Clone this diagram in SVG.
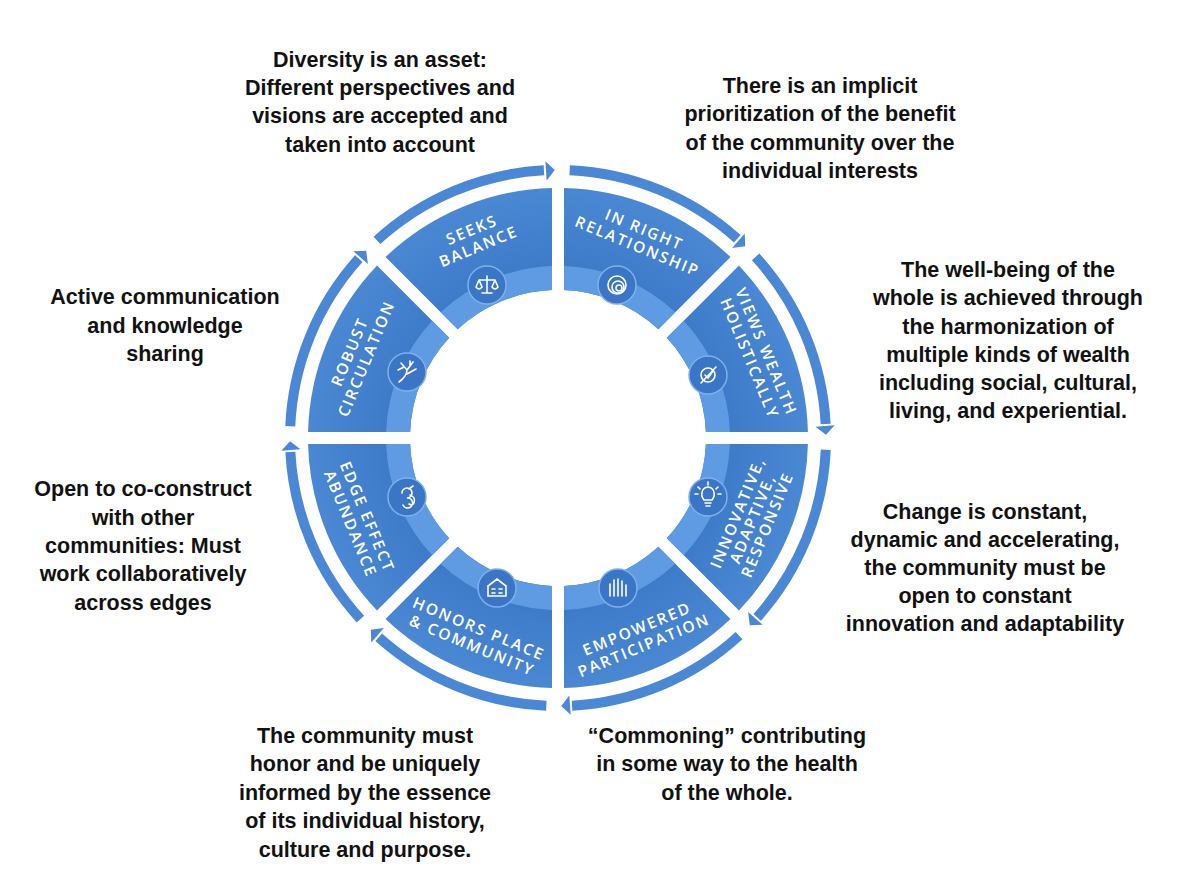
<svg xmlns="http://www.w3.org/2000/svg" xmlns:xlink="http://www.w3.org/1999/xlink" width="1200" height="893" viewBox="0 0 1200 893">
<style>
.t{font-family:"Liberation Sans",Arial,sans-serif;font-weight:bold;font-size:21.5px;fill:#111;text-anchor:middle}
.w{font-family:"Open Sans","Liberation Sans",sans-serif;font-weight:600;font-size:15.5px;fill:#fff;text-anchor:middle;letter-spacing:2px}
.ic{fill:#3b76c6;stroke:#7fb0ea;stroke-width:1.5}
.g{fill:none;stroke:#fff;stroke-width:1.6;stroke-linecap:round}
</style>
<defs>
<radialGradient id="wg" cx="0" cy="0" r="250" gradientUnits="userSpaceOnUse">
<stop offset="0.6" stop-color="#3a78c6"/><stop offset="1" stop-color="#4a88d4"/>
</radialGradient>
<path id="wedge" d="M6,-249.93 A250,250 0 0 1 172.5,-180.95 L100.33,-108.81 A148,148 0 0 0 6,-147.88 Z" fill="url(#wg)"/>
<path id="band" d="M6,-171.9 A172,172 0 0 1 117.3,-125.8 L100.33,-108.81 A148,148 0 0 0 6,-147.88 Z" fill="#5e9be2"/>
<g id="arc">
<path d="M11.69,-267.74 A268,268 0 0 1 179.3,-199.2" fill="none" stroke="#4a88d6" stroke-width="10"/>
<polygon points="174.1,-190.1 186.7,-204.6 187.2,-191.8" fill="#4a88d6"/>
</g>
</defs>
<g id="connectors" transform="translate(558,438)">
<use xlink:href="#arc"/>
<use xlink:href="#arc" transform="rotate(45)"/>
<use xlink:href="#arc" transform="rotate(90)"/>
<use xlink:href="#arc" transform="rotate(135)"/>
<use xlink:href="#arc" transform="rotate(180)"/>
<use xlink:href="#arc" transform="rotate(225)"/>
<use xlink:href="#arc" transform="rotate(270)"/>
<use xlink:href="#arc" transform="rotate(315)"/>
</g>
<g transform="translate(558,438)">
<g id="n-seeks-balance" transform="rotate(315)"><use xlink:href="#wedge"/><use xlink:href="#band"/></g>
<g id="n-right-relationship"><use xlink:href="#wedge"/><use xlink:href="#band"/></g>
<g id="n-views-wealth" transform="rotate(45)"><use xlink:href="#wedge"/><use xlink:href="#band"/></g>
<g id="n-innovative" transform="rotate(90)"><use xlink:href="#wedge"/><use xlink:href="#band"/></g>
<g id="n-empowered" transform="rotate(135)"><use xlink:href="#wedge"/><use xlink:href="#band"/></g>
<g id="n-honors" transform="rotate(180)"><use xlink:href="#wedge"/><use xlink:href="#band"/></g>
<g id="n-edge" transform="rotate(225)"><use xlink:href="#wedge"/><use xlink:href="#band"/></g>
<g id="n-robust" transform="rotate(270)"><use xlink:href="#wedge"/><use xlink:href="#band"/></g>
</g>
<g id="labels" transform="translate(558,438)">
<g transform="rotate(-22.5) translate(0,-216)"><text class="w" y="-4">SEEKS</text><text class="w" y="14">BALANCE</text></g>
<g transform="rotate(22.5) translate(0,-216)"><text class="w" y="-4">IN RIGHT</text><text class="w" y="14">RELATIONSHIP</text></g>
<g transform="rotate(67.5) translate(0,-216)"><text class="w" y="-4">VIEWS WEALTH</text><text class="w" y="14">HOLISTICALLY</text></g>
<g transform="rotate(-67.5) translate(0,-216)"><text class="w" y="-4">ROBUST</text><text class="w" y="14">CIRCULATION</text></g>
<g transform="rotate(112.5) translate(0,-214) rotate(180)"><text class="w" y="-14">INNOVATIVE,</text><text class="w" y="2">ADAPTIVE,</text><text class="w" y="18">RESPONSIVE</text></g>
<g transform="rotate(157.5) translate(0,-216) rotate(180)"><text class="w" y="-4">EMPOWERED</text><text class="w" y="14">PARTICIPATION</text></g>
<g transform="rotate(202.5) translate(0,-216) rotate(180)"><text class="w" y="-4">HONORS PLACE</text><text class="w" y="14">&amp; COMMUNITY</text></g>
<g transform="rotate(247.5) translate(0,-216) rotate(180)"><text class="w" y="-4">EDGE EFFECT</text><text class="w" y="14">ABUNDANCE</text></g>
</g>
<g id="icons">
<g transform="translate(487,285)"><circle class="ic" r="19"/><path class="g" d="M0,-9 V7 M-8,-5 H8 M-8,-5 L-11,2 M-8,-5 L-5,2 M8,-5 L5,2 M8,-5 L11,2 M-11,2 Q-8,6 -5,2 M5,2 Q8,6 11,2 M-5,8 H5"/></g>
<g transform="translate(617,285)"><circle class="ic" r="19"/><circle class="g" cx="0" cy="0" r="9"/><circle class="g" cx="1" cy="2" r="6"/><circle class="g" cx="2" cy="3" r="3"/></g>
<g transform="translate(708,375)"><circle class="ic" r="19"/><circle class="g" r="7"/><path class="g" d="M-7,8 L8,-8 M-3,0 L0,3 L5,-4"/></g>
<g transform="translate(708,497)"><circle class="ic" r="19"/><path class="g" d="M-4,3 Q-7,-1 -6,-4 A6,6 0 1 1 6,-4 Q7,-1 4,3 Z M-3,6 H3 M-2,9 H2 M0,-15 V-12 M-10,-10 L-8,-8 M10,-10 L8,-8 M-13,-3 H-10 M13,-3 H10"/></g>
<g transform="translate(618,588)"><circle class="ic" r="19"/><path class="g" d="M-8,8 V-4 M-4,8 V-8 M0,8 V-9 M4,8 V-7 M8,8 V-3"/></g>
<g transform="translate(497,588)"><circle class="ic" r="19"/><path class="g" d="M-9,8 V-2 L0,-9 L9,-2 V8 Z M-5,1 H-2 M2,1 H5 M-5,5 H-2 M2,5 H5"/></g>
<g transform="translate(407,497)"><circle class="ic" r="19"/><path class="g" d="M-5,-4 A5,5 0 1 1 0,1 A5,5 0 1 1 -4,8 M3,-2 Q9,0 7,6 Q5,9 2,7 M2,-8 L6,-11"/></g>
<g transform="translate(407,372)"><circle class="ic" r="19"/><path class="g" d="M-8,10 Q0,4 0,-2 L-6,-9 M0,-2 L6,-10 M0,2 L9,-3 M-3,-5 L-9,-2 M3,-6 L3,-11"/></g>
</g>
<g id="texts">
<text class="t" x="380" y="67">Diversity is an asset:</text>
<text class="t" x="380" y="95">Different perspectives and</text>
<text class="t" x="380" y="123">visions are accepted and</text>
<text class="t" x="380" y="152">taken into account</text>
<text class="t" x="820" y="93">There is an implicit</text>
<text class="t" x="820" y="121">prioritization of the benefit</text>
<text class="t" x="820" y="150">of the community over the</text>
<text class="t" x="820" y="178">individual interests</text>
<text class="t" x="165" y="304">Active communication</text>
<text class="t" x="165" y="333">and knowledge</text>
<text class="t" x="165" y="361">sharing</text>
<text class="t" x="1008" y="277">The well-being of the</text>
<text class="t" x="1008" y="305">whole is achieved through</text>
<text class="t" x="1008" y="334">the harmonization of</text>
<text class="t" x="1008" y="362">multiple kinds of wealth</text>
<text class="t" x="1008" y="390">including social, cultural,</text>
<text class="t" x="1008" y="418">living, and experiential.</text>
<text class="t" x="143" y="496">Open to co-construct</text>
<text class="t" x="143" y="525">with other</text>
<text class="t" x="143" y="553">communities: Must</text>
<text class="t" x="143" y="581">work collaboratively</text>
<text class="t" x="143" y="610">across edges</text>
<text class="t" x="985" y="519">Change is constant,</text>
<text class="t" x="985" y="547">dynamic and accelerating,</text>
<text class="t" x="985" y="575">the community must be</text>
<text class="t" x="985" y="603">open to constant</text>
<text class="t" x="985" y="631">innovation and adaptability</text>
<text class="t" x="365" y="743">The community must</text>
<text class="t" x="365" y="771">honor and be uniquely</text>
<text class="t" x="365" y="800">informed by the essence</text>
<text class="t" x="365" y="828">of its individual history,</text>
<text class="t" x="365" y="857">culture and purpose.</text>
<text class="t" x="727" y="743">“Commoning” contributing</text>
<text class="t" x="727" y="771">in some way to the health</text>
<text class="t" x="727" y="800">of the whole.</text>
</g>
</svg>
